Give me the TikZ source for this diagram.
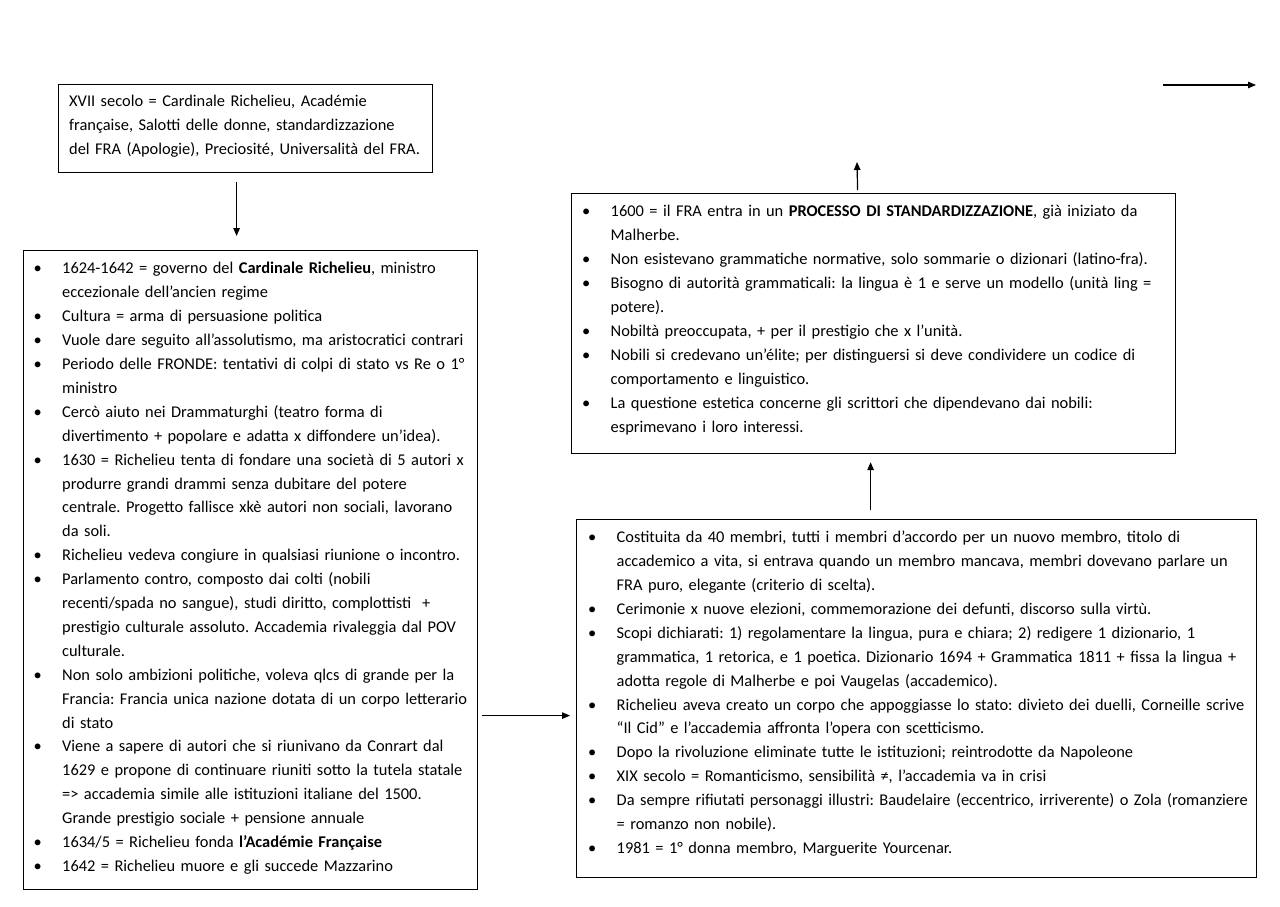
\documentclass[tikz,border=0pt]{standalone}
\usepackage{fontspec}
\setmainfont{Carlito}
\usetikzlibrary{arrows.meta}
\newcommand\ragr{\rightskip=0pt plus 1fil\relax}
\newcommand\bitem[1]{\noindent\ragr\hangindent=28.5pt\hangafter=1\strut\makebox[28.5pt][l]{\textbullet}#1\par}
\newcommand\nl{\newline}
\newcommand\txtfont{\fontsize{16.4}{23.9}\selectfont\frenchspacing}
\tikzset{
  box/.style={draw=black, line width=1.2pt, inner sep=0pt, anchor=north west},
  txt/.style={inner sep=0pt, anchor=north west, text width=720pt, align=left,
    font=\txtfont},
  arr/.style={line width=1.2pt, -{Triangle[length=8pt,width=6.5pt]}}
}
\begin{document}
\begin{tikzpicture}[x=1pt,y=-1pt]
\useasboundingbox (0,0) rectangle (1280,906);
% boxes
\node[box, minimum width=374, minimum height=88] (b1) at (58,84) {};
\node[box, minimum width=454, minimum height=639] (b2) at (23,250) {};
\node[box, minimum width=604, minimum height=260] (b4) at (571,193) {};
\node[box, minimum width=680, minimum height=358] (b3) at (576,519) {};
% texts
\node[txt] (t1) at (69,89.3) {\ragr\strut XVII secolo = Cardinale Richelieu, Académie\nl
française, Salotti delle donne, standardizzazione\nl
del FRA (Apologie), Preciosité, Universalità del FRA.};
\node[txt] (t2) at (33.5,257) {%
\bitem{1624-1642 = governo del \textbf{Cardinale Richelieu}, ministro\nl eccezionale dell’ancien regime}%
\bitem{Cultura = arma di persuasione politica}%
\bitem{Vuole dare seguito all’assolutismo, ma aristocratici contrari}%
\bitem{Periodo delle FRONDE: tentativi di colpi di stato vs Re o 1°\nl ministro}%
\bitem{Cercò aiuto nei Drammaturghi (teatro forma di\nl divertimento + popolare e adatta x diffondere un’idea).}%
\bitem{1630 = Richelieu tenta di fondare una società di 5 autori x\nl produrre grandi drammi senza dubitare del potere\nl centrale. Progetto fallisce xkè autori non sociali, lavorano\nl da soli.}%
\bitem{Richelieu vedeva congiure in qualsiasi riunione o incontro.}%
\bitem{Parlamento contro, composto dai colti (nobili\nl recenti/spada no sangue), studi diritto, complottisti~~+\nl prestigio culturale assoluto. Accademia rivaleggia dal POV\nl culturale.}%
\bitem{Non solo ambizioni politiche, voleva qlcs di grande per la\nl Francia: Francia unica nazione dotata di un corpo letterario\nl di stato}%
\bitem{Viene a sapere di autori che si riunivano da Conrart dal\nl 1629 e propone di continuare riuniti sotto la tutela statale\nl => accademia simile alle istituzioni italiane del 1500.\nl Grande prestigio sociale + pensione annuale}%
\bitem{1634/5 = Richelieu fonda \textbf{l’Académie Française}}%
\bitem{1642 = Richelieu muore e gli succede Mazzarino}};
\node[txt] (t4) at (582,200) {%
\bitem{1600 = il FRA entra in un \textbf{PROCESSO DI STANDARDIZZAZIONE}, già iniziato da\nl Malherbe.}%
\bitem{Non esistevano grammatiche normative, solo sommarie o dizionari (latino-fra).}%
\bitem{Bisogno di autorità grammaticali: la lingua è 1 e serve un modello (unità ling =\nl potere).}%
\bitem{Nobiltà preoccupata, + per il prestigio che x l’unità.}%
\bitem{Nobili si credevano un’élite; per distinguersi si deve condividere un codice di\nl comportamento e linguistico.}%
\bitem{La questione estetica concerne gli scrittori che dipendevano dai nobili:\nl esprimevano i loro interessi.}};
\node[txt] (t3) at (588,525.8) {%
\bitem{Costituita da 40 membri, tutti i membri d’accordo per un nuovo membro, titolo di\nl accademico a vita, si entrava quando un membro mancava, membri dovevano parlare un\nl FRA puro, elegante (criterio di scelta).}%
\bitem{Cerimonie x nuove elezioni, commemorazione dei defunti, discorso sulla virtù.}%
\bitem{Scopi dichiarati: 1) regolamentare la lingua, pura e chiara; 2) redigere 1 dizionario, 1\nl grammatica, 1 retorica, e 1 poetica. Dizionario 1694 + Grammatica 1811 + fissa la lingua +\nl adotta regole di Malherbe e poi Vaugelas (accademico).}%
\bitem{Richelieu aveva creato un corpo che appoggiasse lo stato: divieto dei duelli, Corneille scrive\nl “Il Cid” e l’accademia affronta l’opera con scetticismo.}%
\bitem{Dopo la rivoluzione eliminate tutte le istituzioni; reintrodotte da Napoleone}%
\bitem{XIX secolo = Romanticismo, sensibilità ≠, l’accademia va in crisi}%
\bitem{Da sempre rifiutati personaggi illustri: Baudelaire (eccentrico, irriverente) o Zola (romanziere\nl = romanzo non nobile).}%
\bitem{1981 = 1° donna membro, Marguerite Yourcenar.}};
% connectors
\draw[arr] ([xshift=-9pt,yshift=-9pt]b1.south) -- ([xshift=-14pt,yshift=14pt]b2.north);
\draw[arr] ([xshift=4pt,yshift=-145.5pt]b2.east) -- ([xshift=-6pt,yshift=-17pt]b3.west);
\draw[arr] ([xshift=-46pt,yshift=9pt]b3.north) -- ([xshift=-3pt,yshift=-8pt]b4.south);
\coordinate (up) at (857,162);
\draw[arr] ([xshift=-16pt,yshift=3pt]b4.north) -- (up);
\coordinate (ra) at (1163,85);
\coordinate (rb) at (1256,85);
\draw[arr] (ra) -- (rb);
\end{tikzpicture}
\end{document}
